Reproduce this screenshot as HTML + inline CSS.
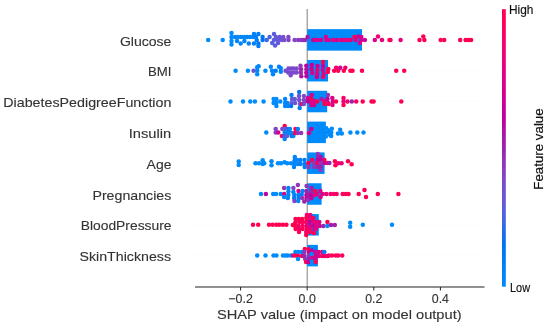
<!DOCTYPE html><html><head><meta charset="utf-8"><style>
html,body{margin:0;padding:0;background:#fff;}
body{width:550px;height:327px;position:relative;overflow:hidden;font-family:"Liberation Sans",sans-serif;color:#333;}
.t{position:absolute;white-space:nowrap;line-height:1;-webkit-text-stroke:0.12px #333;}
.lab{font-size:13.2px;text-align:right;right:378.6px;}
.tick{font-size:12.4px;width:40px;text-align:center;}
</style></head><body>
<div id="wrap" style="position:absolute;left:0;top:0;width:550px;height:327px;filter:blur(0.3px)">
<svg width="550" height="327" viewBox="0 0 550 327" style="position:absolute;left:0;top:0"><defs><linearGradient id="cb" x1="0" y1="1" x2="0" y2="0"><stop offset="0.00" stop-color="#008bfb"/><stop offset="0.05" stop-color="#0084f9"/><stop offset="0.10" stop-color="#007cf5"/><stop offset="0.15" stop-color="#0074f0"/><stop offset="0.20" stop-color="#236cea"/><stop offset="0.25" stop-color="#4b63e3"/><stop offset="0.30" stop-color="#6359da"/><stop offset="0.35" stop-color="#754fd1"/><stop offset="0.40" stop-color="#8443c6"/><stop offset="0.45" stop-color="#9135ba"/><stop offset="0.50" stop-color="#9b23ad"/><stop offset="0.55" stop-color="#ab15a7"/><stop offset="0.60" stop-color="#bb00a0"/><stop offset="0.65" stop-color="#c80098"/><stop offset="0.70" stop-color="#d5008f"/><stop offset="0.75" stop-color="#e00086"/><stop offset="0.80" stop-color="#e9007c"/><stop offset="0.85" stop-color="#f20072"/><stop offset="0.90" stop-color="#f90067"/><stop offset="0.95" stop-color="#fe005c"/><stop offset="1.00" stop-color="#ff0051"/></linearGradient></defs><line x1="195.0" y1="39.90" x2="484.5" y2="39.90" stroke="#e4e4e4" stroke-width="0.5" stroke-dasharray="0.8 3.2"/><line x1="195.0" y1="70.72" x2="484.5" y2="70.72" stroke="#e4e4e4" stroke-width="0.5" stroke-dasharray="0.8 3.2"/><line x1="195.0" y1="101.54" x2="484.5" y2="101.54" stroke="#e4e4e4" stroke-width="0.5" stroke-dasharray="0.8 3.2"/><line x1="195.0" y1="132.36" x2="484.5" y2="132.36" stroke="#e4e4e4" stroke-width="0.5" stroke-dasharray="0.8 3.2"/><line x1="195.0" y1="163.18" x2="484.5" y2="163.18" stroke="#e4e4e4" stroke-width="0.5" stroke-dasharray="0.8 3.2"/><line x1="195.0" y1="194.00" x2="484.5" y2="194.00" stroke="#e4e4e4" stroke-width="0.5" stroke-dasharray="0.8 3.2"/><line x1="195.0" y1="224.82" x2="484.5" y2="224.82" stroke="#e4e4e4" stroke-width="0.5" stroke-dasharray="0.8 3.2"/><line x1="195.0" y1="255.64" x2="484.5" y2="255.64" stroke="#e4e4e4" stroke-width="0.5" stroke-dasharray="0.8 3.2"/><line x1="307.2" y1="9" x2="307.2" y2="287.0" stroke="#8c8c8c" stroke-width="1.1"/><rect x="307.2" y="29.15" width="54.80" height="21.5" fill="#008bfb"/><rect x="307.2" y="59.97" width="20.80" height="21.5" fill="#008bfb"/><rect x="307.2" y="90.79" width="20.00" height="21.5" fill="#008bfb"/><rect x="307.2" y="121.61" width="18.70" height="21.5" fill="#008bfb"/><rect x="307.2" y="152.43" width="17.40" height="21.5" fill="#008bfb"/><rect x="307.2" y="183.25" width="14.40" height="21.5" fill="#008bfb"/><rect x="307.2" y="214.07" width="11.60" height="21.5" fill="#008bfb"/><rect x="307.2" y="244.89" width="10.70" height="21.5" fill="#008bfb"/><circle cx="208.2" cy="40.0" r="2.25" fill="#008bfb"/><circle cx="222.7" cy="40.0" r="2.25" fill="#008bfb"/><circle cx="231.5" cy="33.0" r="2.25" fill="#008bfb"/><circle cx="231.5" cy="37.0" r="2.25" fill="#008bfb"/><circle cx="231.5" cy="41.0" r="2.25" fill="#008bfb"/><circle cx="231.5" cy="44.5" r="2.25" fill="#008bfb"/><circle cx="235.0" cy="37.0" r="2.25" fill="#0086fa"/><circle cx="238.0" cy="37.0" r="2.25" fill="#0086fa"/><circle cx="241.0" cy="37.0" r="2.25" fill="#0086fa"/><circle cx="244.0" cy="37.0" r="2.25" fill="#0086fa"/><circle cx="247.0" cy="37.0" r="2.25" fill="#0086fa"/><circle cx="250.0" cy="37.0" r="2.25" fill="#0086fa"/><circle cx="253.0" cy="37.0" r="2.25" fill="#0086fa"/><circle cx="256.0" cy="37.0" r="2.25" fill="#0086fa"/><circle cx="237.0" cy="41.0" r="2.25" fill="#0086fa"/><circle cx="244.4" cy="41.0" r="2.25" fill="#0084f9"/><circle cx="240.7" cy="43.5" r="2.25" fill="#0086fa"/><circle cx="248.8" cy="43.5" r="2.25" fill="#0084f9"/><circle cx="254.0" cy="34.0" r="2.25" fill="#007ff7"/><circle cx="254.0" cy="43.5" r="2.25" fill="#007ff7"/><circle cx="258.4" cy="34.0" r="2.25" fill="#007cf5"/><circle cx="258.4" cy="43.5" r="2.25" fill="#007cf5"/><circle cx="258.4" cy="46.0" r="2.25" fill="#007cf5"/><circle cx="256.7" cy="40.0" r="2.25" fill="#007cf5"/><circle cx="262.6" cy="37.0" r="2.25" fill="#0074f0"/><circle cx="262.6" cy="40.0" r="2.25" fill="#0074f0"/><circle cx="266.7" cy="40.0" r="2.25" fill="#3769e8"/><circle cx="269.6" cy="37.0" r="2.25" fill="#4b63e3"/><circle cx="272.2" cy="43.0" r="2.25" fill="#5a5dde"/><circle cx="274.0" cy="34.0" r="2.25" fill="#5a5dde"/><circle cx="274.0" cy="40.0" r="2.25" fill="#5a5dde"/><circle cx="275.1" cy="45.5" r="2.25" fill="#5a5dde"/><circle cx="275.9" cy="37.0" r="2.25" fill="#6359da"/><circle cx="278.0" cy="40.0" r="2.25" fill="#6359da"/><circle cx="278.0" cy="43.0" r="2.25" fill="#6359da"/><circle cx="279.5" cy="37.0" r="2.25" fill="#6a55d7"/><circle cx="281.7" cy="40.0" r="2.25" fill="#6e53d5"/><circle cx="283.2" cy="37.0" r="2.25" fill="#7251d3"/><circle cx="284.3" cy="40.0" r="2.25" fill="#754fd1"/><circle cx="288.4" cy="37.0" r="2.25" fill="#8443c6"/><circle cx="288.5" cy="40.0" r="2.25" fill="#8443c6"/><circle cx="294.6" cy="40.0" r="2.25" fill="#8443c6"/><circle cx="298.2" cy="40.0" r="2.25" fill="#893dc1"/><circle cx="301.1" cy="40.0" r="2.25" fill="#8e38bc"/><circle cx="303.7" cy="40.0" r="2.25" fill="#9332b7"/><circle cx="305.2" cy="40.0" r="2.25" fill="#972bb2"/><circle cx="307.6" cy="37.0" r="2.25" fill="#ab15a7"/><circle cx="313.2" cy="40.0" r="2.25" fill="#cb0096"/><circle cx="315.6" cy="40.0" r="2.25" fill="#d00093"/><circle cx="317.4" cy="40.0" r="2.25" fill="#d5008f"/><circle cx="320.9" cy="40.0" r="2.25" fill="#d5008f"/><circle cx="325.8" cy="37.0" r="2.25" fill="#d9008b"/><circle cx="326.5" cy="40.0" r="2.25" fill="#d9008b"/><circle cx="328.9" cy="40.0" r="2.25" fill="#d9008b"/><circle cx="333.5" cy="40.0" r="2.25" fill="#de0088"/><circle cx="336.7" cy="40.0" r="2.25" fill="#de0088"/><circle cx="340.9" cy="40.0" r="2.25" fill="#e20084"/><circle cx="343.1" cy="40.0" r="2.25" fill="#e20084"/><circle cx="345.6" cy="40.0" r="2.25" fill="#e20084"/><circle cx="348.2" cy="40.0" r="2.25" fill="#e60080"/><circle cx="350.7" cy="40.0" r="2.25" fill="#e60080"/><circle cx="354.4" cy="37.0" r="2.25" fill="#fe005c"/><circle cx="355.8" cy="40.0" r="2.25" fill="#d9008b"/><circle cx="358.4" cy="36.5" r="2.25" fill="#d5008f"/><circle cx="359.8" cy="43.0" r="2.25" fill="#e00086"/><circle cx="361.3" cy="37.0" r="2.25" fill="#d5008f"/><circle cx="361.3" cy="40.0" r="2.25" fill="#d5008f"/><circle cx="364.9" cy="40.0" r="2.25" fill="#d00093"/><circle cx="374.8" cy="40.0" r="2.25" fill="#e00086"/><circle cx="378.0" cy="36.5" r="2.25" fill="#f20072"/><circle cx="382.0" cy="40.0" r="2.25" fill="#e9007c"/><circle cx="389.5" cy="40.0" r="2.25" fill="#fe005c"/><circle cx="390.5" cy="40.0" r="2.25" fill="#fe005c"/><circle cx="400.6" cy="40.0" r="2.25" fill="#e60080"/><circle cx="419.5" cy="40.0" r="2.25" fill="#fe005c"/><circle cx="423.3" cy="36.5" r="2.25" fill="#fe005c"/><circle cx="424.4" cy="40.0" r="2.25" fill="#ff0051"/><circle cx="440.7" cy="40.0" r="2.25" fill="#fe005c"/><circle cx="444.2" cy="40.0" r="2.25" fill="#ff0051"/><circle cx="460.2" cy="40.0" r="2.25" fill="#ff0051"/><circle cx="465.6" cy="40.0" r="2.25" fill="#ff0051"/><circle cx="468.4" cy="40.0" r="2.25" fill="#ff0051"/><circle cx="471.1" cy="40.0" r="2.25" fill="#ff0051"/><circle cx="235.6" cy="70.7" r="2.25" fill="#008bfb"/><circle cx="247.9" cy="70.7" r="2.25" fill="#008bfb"/><circle cx="253.6" cy="70.7" r="2.25" fill="#754fd1"/><circle cx="257.2" cy="67.2" r="2.25" fill="#008bfb"/><circle cx="257.2" cy="70.7" r="2.25" fill="#008bfb"/><circle cx="257.2" cy="74.2" r="2.25" fill="#008bfb"/><circle cx="258.6" cy="66.2" r="2.25" fill="#0084f9"/><circle cx="265.4" cy="70.7" r="2.25" fill="#008bfb"/><circle cx="270.8" cy="66.7" r="2.25" fill="#008bfb"/><circle cx="272.0" cy="70.7" r="2.25" fill="#0084f9"/><circle cx="273.0" cy="74.2" r="2.25" fill="#0084f9"/><circle cx="275.7" cy="70.7" r="2.25" fill="#007cf5"/><circle cx="279.0" cy="66.7" r="2.25" fill="#0084f9"/><circle cx="280.8" cy="68.2" r="2.25" fill="#0084f9"/><circle cx="280.8" cy="71.7" r="2.25" fill="#0084f9"/><circle cx="285.6" cy="70.7" r="2.25" fill="#754fd1"/><circle cx="288.5" cy="68.5" r="2.25" fill="#7b4acc"/><circle cx="288.2" cy="72.5" r="2.25" fill="#7b4acc"/><circle cx="291.1" cy="68.5" r="2.25" fill="#7b4acc"/><circle cx="290.7" cy="72.5" r="2.25" fill="#7b4acc"/><circle cx="293.5" cy="68.5" r="2.25" fill="#7b4acc"/><circle cx="294.0" cy="72.5" r="2.25" fill="#7b4acc"/><circle cx="296.6" cy="68.5" r="2.25" fill="#7b4acc"/><circle cx="296.7" cy="72.5" r="2.25" fill="#7b4acc"/><circle cx="290.7" cy="75.2" r="2.25" fill="#7e48ca"/><circle cx="300.5" cy="65.7" r="2.25" fill="#9135ba"/><circle cx="301.0" cy="69.2" r="2.25" fill="#9b23ad"/><circle cx="300.9" cy="72.7" r="2.25" fill="#972bb2"/><circle cx="301.3" cy="76.2" r="2.25" fill="#ab15a7"/><circle cx="306.3" cy="65.7" r="2.25" fill="#bb00a0"/><circle cx="306.4" cy="69.2" r="2.25" fill="#ab15a7"/><circle cx="306.3" cy="72.7" r="2.25" fill="#c0009c"/><circle cx="306.5" cy="76.2" r="2.25" fill="#b508a2"/><circle cx="311.8" cy="65.0" r="2.25" fill="#c0009c"/><circle cx="311.6" cy="69.0" r="2.25" fill="#d00093"/><circle cx="312.3" cy="73.0" r="2.25" fill="#d9008b"/><circle cx="317.5" cy="66.0" r="2.25" fill="#d5008f"/><circle cx="317.3" cy="70.0" r="2.25" fill="#f20072"/><circle cx="317.2" cy="74.0" r="2.25" fill="#e00086"/><circle cx="316.8" cy="77.0" r="2.25" fill="#d00093"/><circle cx="323.0" cy="62.0" r="2.25" fill="#ff0051"/><circle cx="323.1" cy="66.0" r="2.25" fill="#c80098"/><circle cx="322.9" cy="70.0" r="2.25" fill="#d9008b"/><circle cx="323.6" cy="74.0" r="2.25" fill="#e9007c"/><circle cx="323.2" cy="77.0" r="2.25" fill="#fb0063"/><circle cx="328.3" cy="69.0" r="2.25" fill="#ff0051"/><circle cx="327.9" cy="72.0" r="2.25" fill="#ff0051"/><circle cx="334.1" cy="70.7" r="2.25" fill="#fe005c"/><circle cx="336.1" cy="67.7" r="2.25" fill="#f90067"/><circle cx="338.2" cy="70.7" r="2.25" fill="#ff0051"/><circle cx="340.2" cy="67.7" r="2.25" fill="#d5008f"/><circle cx="343.8" cy="70.7" r="2.25" fill="#ff0051"/><circle cx="345.3" cy="67.7" r="2.25" fill="#f20072"/><circle cx="350.4" cy="70.7" r="2.25" fill="#ff0051"/><circle cx="352.5" cy="70.7" r="2.25" fill="#ff0051"/><circle cx="362.0" cy="70.7" r="2.25" fill="#ff0051"/><circle cx="396.2" cy="70.7" r="2.25" fill="#ff0051"/><circle cx="404.2" cy="70.7" r="2.25" fill="#ff0051"/><circle cx="230.5" cy="101.5" r="2.25" fill="#008bfb"/><circle cx="243.0" cy="101.5" r="2.25" fill="#008bfb"/><circle cx="250.3" cy="101.5" r="2.25" fill="#008bfb"/><circle cx="254.9" cy="101.5" r="2.25" fill="#008bfb"/><circle cx="263.6" cy="101.5" r="2.25" fill="#008bfb"/><circle cx="273.6" cy="99.0" r="2.25" fill="#008bfb"/><circle cx="273.6" cy="103.0" r="2.25" fill="#008bfb"/><circle cx="276.4" cy="99.0" r="2.25" fill="#008bfb"/><circle cx="276.4" cy="103.0" r="2.25" fill="#008bfb"/><circle cx="276.4" cy="106.0" r="2.25" fill="#008bfb"/><circle cx="280.3" cy="101.5" r="2.25" fill="#008bfb"/><circle cx="285.1" cy="99.0" r="2.25" fill="#0086fa"/><circle cx="285.1" cy="103.0" r="2.25" fill="#0086fa"/><circle cx="285.1" cy="106.0" r="2.25" fill="#0086fa"/><circle cx="287.2" cy="103.0" r="2.25" fill="#0084f9"/><circle cx="287.9" cy="106.0" r="2.25" fill="#0084f9"/><circle cx="291.5" cy="95.0" r="2.25" fill="#007cf5"/><circle cx="292.0" cy="99.0" r="2.25" fill="#6359da"/><circle cx="291.4" cy="103.0" r="2.25" fill="#6359da"/><circle cx="291.1" cy="106.0" r="2.25" fill="#0074f0"/><circle cx="294.8" cy="99.0" r="2.25" fill="#6359da"/><circle cx="295.0" cy="103.0" r="2.25" fill="#6a55d7"/><circle cx="299.2" cy="92.0" r="2.25" fill="#0074f0"/><circle cx="299.0" cy="96.0" r="2.25" fill="#6e53d5"/><circle cx="299.2" cy="100.0" r="2.25" fill="#754fd1"/><circle cx="299.9" cy="104.0" r="2.25" fill="#6359da"/><circle cx="299.7" cy="108.0" r="2.25" fill="#007cf5"/><circle cx="302.1" cy="104.0" r="2.25" fill="#ff0051"/><circle cx="303.9" cy="96.0" r="2.25" fill="#7e48ca"/><circle cx="303.8" cy="100.0" r="2.25" fill="#8443c6"/><circle cx="303.8" cy="104.0" r="2.25" fill="#784ccf"/><circle cx="305.7" cy="101.0" r="2.25" fill="#8443c6"/><circle cx="307.9" cy="98.0" r="2.25" fill="#d5008f"/><circle cx="308.3" cy="101.5" r="2.25" fill="#bb00a0"/><circle cx="311.7" cy="95.0" r="2.25" fill="#d5008f"/><circle cx="311.5" cy="99.0" r="2.25" fill="#ff0051"/><circle cx="312.0" cy="103.0" r="2.25" fill="#e00086"/><circle cx="311.4" cy="105.0" r="2.25" fill="#d5008f"/><circle cx="314.6" cy="101.0" r="2.25" fill="#d5008f"/><circle cx="314.1" cy="105.0" r="2.25" fill="#d5008f"/><circle cx="317.2" cy="101.5" r="2.25" fill="#ff0051"/><circle cx="321.4" cy="99.0" r="2.25" fill="#9b23ad"/><circle cx="323.9" cy="101.0" r="2.25" fill="#f20072"/><circle cx="324.6" cy="104.0" r="2.25" fill="#ff0051"/><circle cx="328.0" cy="95.0" r="2.25" fill="#9135ba"/><circle cx="327.5" cy="99.0" r="2.25" fill="#bb00a0"/><circle cx="328.1" cy="103.0" r="2.25" fill="#e9007c"/><circle cx="328.6" cy="104.0" r="2.25" fill="#ff0051"/><circle cx="332.3" cy="98.0" r="2.25" fill="#e00086"/><circle cx="332.8" cy="101.5" r="2.25" fill="#e00086"/><circle cx="332.5" cy="105.0" r="2.25" fill="#e00086"/><circle cx="336.0" cy="101.5" r="2.25" fill="#ff0051"/><circle cx="343.5" cy="98.0" r="2.25" fill="#f90067"/><circle cx="343.5" cy="101.5" r="2.25" fill="#e9007c"/><circle cx="343.5" cy="105.0" r="2.25" fill="#fe005c"/><circle cx="347.5" cy="101.5" r="2.25" fill="#f90067"/><circle cx="351.8" cy="101.5" r="2.25" fill="#9b23ad"/><circle cx="356.2" cy="101.5" r="2.25" fill="#fe005c"/><circle cx="362.7" cy="101.5" r="2.25" fill="#ff0051"/><circle cx="371.5" cy="101.5" r="2.25" fill="#ff0051"/><circle cx="373.6" cy="101.5" r="2.25" fill="#ff0051"/><circle cx="401.3" cy="101.5" r="2.25" fill="#ff0051"/><circle cx="266.3" cy="132.4" r="2.25" fill="#008bfb"/><circle cx="275.7" cy="129.0" r="2.25" fill="#8443c6"/><circle cx="275.7" cy="132.5" r="2.25" fill="#8443c6"/><circle cx="278.2" cy="132.5" r="2.25" fill="#d5008f"/><circle cx="281.9" cy="136.0" r="2.25" fill="#f20072"/><circle cx="282.3" cy="129.0" r="2.25" fill="#8443c6"/><circle cx="284.7" cy="126.0" r="2.25" fill="#ff0051"/><circle cx="284.7" cy="129.0" r="2.25" fill="#6359da"/><circle cx="284.7" cy="132.5" r="2.25" fill="#0084f9"/><circle cx="284.7" cy="136.0" r="2.25" fill="#236cea"/><circle cx="284.7" cy="139.0" r="2.25" fill="#0084f9"/><circle cx="287.7" cy="129.0" r="2.25" fill="#236cea"/><circle cx="286.9" cy="133.0" r="2.25" fill="#0084f9"/><circle cx="287.0" cy="136.0" r="2.25" fill="#6359da"/><circle cx="289.9" cy="129.0" r="2.25" fill="#0084f9"/><circle cx="289.4" cy="133.0" r="2.25" fill="#0084f9"/><circle cx="291.9" cy="133.0" r="2.25" fill="#0084f9"/><circle cx="291.7" cy="136.0" r="2.25" fill="#0074f0"/><circle cx="293.3" cy="136.0" r="2.25" fill="#0084f9"/><circle cx="295.5" cy="129.0" r="2.25" fill="#ff0051"/><circle cx="295.1" cy="133.0" r="2.25" fill="#ff0051"/><circle cx="297.9" cy="129.0" r="2.25" fill="#0084f9"/><circle cx="297.7" cy="133.0" r="2.25" fill="#9135ba"/><circle cx="301.1" cy="133.0" r="2.25" fill="#9135ba"/><circle cx="309.0" cy="133.0" r="2.25" fill="#d5008f"/><circle cx="311.3" cy="129.0" r="2.25" fill="#c80098"/><circle cx="326.3" cy="128.3" r="2.25" fill="#008bfb"/><circle cx="326.6" cy="132.4" r="2.25" fill="#008bfb"/><circle cx="325.9" cy="136.4" r="2.25" fill="#008bfb"/><circle cx="328.9" cy="130.4" r="2.25" fill="#008bfb"/><circle cx="329.6" cy="134.4" r="2.25" fill="#008bfb"/><circle cx="331.8" cy="128.8" r="2.25" fill="#008bfb"/><circle cx="331.2" cy="132.4" r="2.25" fill="#008bfb"/><circle cx="331.2" cy="136.0" r="2.25" fill="#008bfb"/><circle cx="338.0" cy="133.5" r="2.25" fill="#008bfb"/><circle cx="340.2" cy="129.8" r="2.25" fill="#008bfb"/><circle cx="341.8" cy="133.5" r="2.25" fill="#008bfb"/><circle cx="350.4" cy="132.4" r="2.25" fill="#008bfb"/><circle cx="357.3" cy="132.4" r="2.25" fill="#008bfb"/><circle cx="363.5" cy="132.4" r="2.25" fill="#008bfb"/><circle cx="238.7" cy="161.4" r="2.25" fill="#008bfb"/><circle cx="238.7" cy="165.0" r="2.25" fill="#008bfb"/><circle cx="255.5" cy="163.2" r="2.25" fill="#008bfb"/><circle cx="259.0" cy="163.2" r="2.25" fill="#008bfb"/><circle cx="262.7" cy="160.2" r="2.25" fill="#008bfb"/><circle cx="262.7" cy="164.0" r="2.25" fill="#008bfb"/><circle cx="264.2" cy="163.2" r="2.25" fill="#008bfb"/><circle cx="271.5" cy="161.2" r="2.25" fill="#008bfb"/><circle cx="271.5" cy="165.2" r="2.25" fill="#008bfb"/><circle cx="278.0" cy="163.2" r="2.25" fill="#008bfb"/><circle cx="281.0" cy="163.2" r="2.25" fill="#008bfb"/><circle cx="284.5" cy="162.2" r="2.25" fill="#008bfb"/><circle cx="287.2" cy="163.2" r="2.25" fill="#008bfb"/><circle cx="291.0" cy="163.2" r="2.25" fill="#008bfb"/><circle cx="294.8" cy="157.0" r="2.25" fill="#0084f9"/><circle cx="294.5" cy="160.5" r="2.25" fill="#0084f9"/><circle cx="294.3" cy="164.0" r="2.25" fill="#0084f9"/><circle cx="294.0" cy="167.0" r="2.25" fill="#0084f9"/><circle cx="296.8" cy="160.0" r="2.25" fill="#0084f9"/><circle cx="297.8" cy="164.0" r="2.25" fill="#0084f9"/><circle cx="300.2" cy="160.0" r="2.25" fill="#007ff7"/><circle cx="300.7" cy="164.0" r="2.25" fill="#007ff7"/><circle cx="304.4" cy="160.0" r="2.25" fill="#007cf5"/><circle cx="304.9" cy="164.0" r="2.25" fill="#007cf5"/><circle cx="304.7" cy="167.0" r="2.25" fill="#007cf5"/><circle cx="308.5" cy="163.0" r="2.25" fill="#ff0051"/><circle cx="308.4" cy="167.0" r="2.25" fill="#9135ba"/><circle cx="312.2" cy="160.0" r="2.25" fill="#ff0051"/><circle cx="314.1" cy="163.0" r="2.25" fill="#9135ba"/><circle cx="314.2" cy="167.0" r="2.25" fill="#9135ba"/><circle cx="317.8" cy="154.0" r="2.25" fill="#9135ba"/><circle cx="318.1" cy="157.0" r="2.25" fill="#9b23ad"/><circle cx="317.8" cy="160.0" r="2.25" fill="#bb00a0"/><circle cx="317.5" cy="163.0" r="2.25" fill="#fe005c"/><circle cx="318.1" cy="167.0" r="2.25" fill="#9b23ad"/><circle cx="320.7" cy="157.0" r="2.25" fill="#ab15a7"/><circle cx="320.5" cy="160.0" r="2.25" fill="#bb00a0"/><circle cx="320.8" cy="163.0" r="2.25" fill="#9135ba"/><circle cx="320.9" cy="167.0" r="2.25" fill="#9b23ad"/><circle cx="320.6" cy="170.0" r="2.25" fill="#9135ba"/><circle cx="324.4" cy="160.0" r="2.25" fill="#ff0051"/><circle cx="324.6" cy="163.0" r="2.25" fill="#d5008f"/><circle cx="327.7" cy="163.0" r="2.25" fill="#e9007c"/><circle cx="329.4" cy="163.0" r="2.25" fill="#9b23ad"/><circle cx="334.9" cy="161.2" r="2.25" fill="#ff0051"/><circle cx="335.4" cy="165.2" r="2.25" fill="#ff0051"/><circle cx="338.3" cy="163.2" r="2.25" fill="#f90067"/><circle cx="341.5" cy="163.2" r="2.25" fill="#e9007c"/><circle cx="348.0" cy="161.2" r="2.25" fill="#ff0051"/><circle cx="351.6" cy="164.2" r="2.25" fill="#ff0051"/><circle cx="261.0" cy="194.0" r="2.25" fill="#008bfb"/><circle cx="265.9" cy="194.0" r="2.25" fill="#bb00a0"/><circle cx="273.2" cy="194.0" r="2.25" fill="#008bfb"/><circle cx="276.0" cy="194.0" r="2.25" fill="#008bfb"/><circle cx="280.7" cy="194.0" r="2.25" fill="#008bfb"/><circle cx="284.1" cy="188.0" r="2.25" fill="#9135ba"/><circle cx="284.1" cy="194.0" r="2.25" fill="#d5008f"/><circle cx="284.1" cy="197.0" r="2.25" fill="#0084f9"/><circle cx="288.4" cy="188.0" r="2.25" fill="#0084f9"/><circle cx="288.4" cy="191.5" r="2.25" fill="#0084f9"/><circle cx="288.3" cy="195.0" r="2.25" fill="#0084f9"/><circle cx="287.8" cy="198.0" r="2.25" fill="#0084f9"/><circle cx="293.4" cy="188.0" r="2.25" fill="#8443c6"/><circle cx="293.4" cy="192.0" r="2.25" fill="#0084f9"/><circle cx="294.3" cy="195.0" r="2.25" fill="#0084f9"/><circle cx="294.1" cy="198.0" r="2.25" fill="#007cf5"/><circle cx="294.4" cy="201.0" r="2.25" fill="#8443c6"/><circle cx="297.9" cy="185.0" r="2.25" fill="#9135ba"/><circle cx="298.5" cy="191.0" r="2.25" fill="#e00086"/><circle cx="298.4" cy="195.0" r="2.25" fill="#0084f9"/><circle cx="298.6" cy="198.0" r="2.25" fill="#007cf5"/><circle cx="298.2" cy="201.0" r="2.25" fill="#0084f9"/><circle cx="302.6" cy="191.0" r="2.25" fill="#0084f9"/><circle cx="301.7" cy="194.5" r="2.25" fill="#007cf5"/><circle cx="302.1" cy="198.0" r="2.25" fill="#9135ba"/><circle cx="304.3" cy="201.5" r="2.25" fill="#9b23ad"/><circle cx="306.6" cy="186.0" r="2.25" fill="#9135ba"/><circle cx="306.4" cy="191.0" r="2.25" fill="#9b23ad"/><circle cx="306.4" cy="195.0" r="2.25" fill="#bb00a0"/><circle cx="306.5" cy="198.0" r="2.25" fill="#d5008f"/><circle cx="308.2" cy="194.0" r="2.25" fill="#9b23ad"/><circle cx="307.7" cy="198.0" r="2.25" fill="#ab15a7"/><circle cx="308.0" cy="200.0" r="2.25" fill="#9135ba"/><circle cx="311.5" cy="188.0" r="2.25" fill="#ab15a7"/><circle cx="311.5" cy="191.0" r="2.25" fill="#9b23ad"/><circle cx="311.0" cy="195.0" r="2.25" fill="#bb00a0"/><circle cx="311.4" cy="198.0" r="2.25" fill="#c80098"/><circle cx="315.2" cy="191.0" r="2.25" fill="#ff0051"/><circle cx="314.9" cy="195.0" r="2.25" fill="#e00086"/><circle cx="316.9" cy="194.0" r="2.25" fill="#e9007c"/><circle cx="320.4" cy="191.0" r="2.25" fill="#e00086"/><circle cx="320.6" cy="197.0" r="2.25" fill="#e00086"/><circle cx="322.7" cy="194.0" r="2.25" fill="#e00086"/><circle cx="326.3" cy="194.0" r="2.25" fill="#f20072"/><circle cx="330.5" cy="194.0" r="2.25" fill="#f20072"/><circle cx="333.8" cy="194.0" r="2.25" fill="#f90067"/><circle cx="336.6" cy="194.0" r="2.25" fill="#f90067"/><circle cx="342.7" cy="194.0" r="2.25" fill="#fe005c"/><circle cx="345.6" cy="194.0" r="2.25" fill="#fe005c"/><circle cx="348.5" cy="194.0" r="2.25" fill="#ff0051"/><circle cx="358.7" cy="194.0" r="2.25" fill="#ff0051"/><circle cx="364.5" cy="190.0" r="2.25" fill="#ff0051"/><circle cx="366.0" cy="197.0" r="2.25" fill="#ff0051"/><circle cx="377.8" cy="194.0" r="2.25" fill="#ff0051"/><circle cx="398.4" cy="194.0" r="2.25" fill="#ff0051"/><circle cx="253.0" cy="224.8" r="2.25" fill="#ff0051"/><circle cx="258.2" cy="224.8" r="2.25" fill="#ff0051"/><circle cx="269.0" cy="224.8" r="2.25" fill="#ff0051"/><circle cx="272.7" cy="224.8" r="2.25" fill="#ff0051"/><circle cx="276.4" cy="224.8" r="2.25" fill="#ff0051"/><circle cx="279.3" cy="224.8" r="2.25" fill="#ff0051"/><circle cx="282.9" cy="224.8" r="2.25" fill="#ff0051"/><circle cx="286.4" cy="224.8" r="2.25" fill="#ff0051"/><circle cx="292.8" cy="225.0" r="2.25" fill="#ff0051"/><circle cx="295.5" cy="219.0" r="2.25" fill="#ff0051"/><circle cx="295.4" cy="222.5" r="2.25" fill="#ff0051"/><circle cx="295.2" cy="226.0" r="2.25" fill="#ff0051"/><circle cx="295.6" cy="229.0" r="2.25" fill="#ff0051"/><circle cx="298.6" cy="219.0" r="2.25" fill="#ff0051"/><circle cx="299.3" cy="222.0" r="2.25" fill="#f90067"/><circle cx="298.5" cy="226.0" r="2.25" fill="#ff0051"/><circle cx="299.1" cy="229.0" r="2.25" fill="#e9007c"/><circle cx="299.0" cy="232.0" r="2.25" fill="#fe005c"/><circle cx="302.1" cy="219.0" r="2.25" fill="#ff0051"/><circle cx="302.6" cy="222.0" r="2.25" fill="#ff0051"/><circle cx="302.4" cy="226.0" r="2.25" fill="#f90067"/><circle cx="302.5" cy="229.0" r="2.25" fill="#ff0051"/><circle cx="306.9" cy="215.0" r="2.25" fill="#f90067"/><circle cx="306.3" cy="218.0" r="2.25" fill="#ff0051"/><circle cx="306.0" cy="222.0" r="2.25" fill="#fe005c"/><circle cx="306.3" cy="226.0" r="2.25" fill="#e9007c"/><circle cx="306.7" cy="229.0" r="2.25" fill="#ff0051"/><circle cx="306.2" cy="232.0" r="2.25" fill="#f90067"/><circle cx="306.2" cy="235.0" r="2.25" fill="#ff0051"/><circle cx="310.2" cy="215.0" r="2.25" fill="#e9007c"/><circle cx="310.0" cy="219.0" r="2.25" fill="#f90067"/><circle cx="309.7" cy="222.0" r="2.25" fill="#bb00a0"/><circle cx="310.2" cy="226.0" r="2.25" fill="#d5008f"/><circle cx="309.6" cy="229.0" r="2.25" fill="#f20072"/><circle cx="310.0" cy="232.0" r="2.25" fill="#fe005c"/><circle cx="313.2" cy="218.0" r="2.25" fill="#ff0051"/><circle cx="313.4" cy="222.0" r="2.25" fill="#e9007c"/><circle cx="313.8" cy="226.0" r="2.25" fill="#bb00a0"/><circle cx="313.9" cy="229.0" r="2.25" fill="#9b23ad"/><circle cx="313.9" cy="233.0" r="2.25" fill="#ff0051"/><circle cx="315.9" cy="222.0" r="2.25" fill="#e9007c"/><circle cx="316.1" cy="226.0" r="2.25" fill="#e9007c"/><circle cx="315.8" cy="229.0" r="2.25" fill="#e9007c"/><circle cx="319.3" cy="222.0" r="2.25" fill="#e00086"/><circle cx="319.7" cy="226.0" r="2.25" fill="#d5008f"/><circle cx="323.3" cy="226.0" r="2.25" fill="#9b23ad"/><circle cx="327.4" cy="222.0" r="2.25" fill="#ff0051"/><circle cx="327.3" cy="226.0" r="2.25" fill="#008bfb"/><circle cx="331.0" cy="225.0" r="2.25" fill="#ab15a7"/><circle cx="334.8" cy="225.0" r="2.25" fill="#9b23ad"/><circle cx="350.2" cy="222.8" r="2.25" fill="#008bfb"/><circle cx="350.2" cy="226.8" r="2.25" fill="#008bfb"/><circle cx="362.8" cy="224.8" r="2.25" fill="#008bfb"/><circle cx="392.0" cy="224.8" r="2.25" fill="#008bfb"/><circle cx="257.2" cy="255.6" r="2.25" fill="#008bfb"/><circle cx="265.5" cy="255.6" r="2.25" fill="#008bfb"/><circle cx="273.5" cy="255.6" r="2.25" fill="#008bfb"/><circle cx="276.4" cy="255.6" r="2.25" fill="#008bfb"/><circle cx="283.0" cy="255.6" r="2.25" fill="#008bfb"/><circle cx="285.5" cy="255.6" r="2.25" fill="#008bfb"/><circle cx="287.7" cy="255.6" r="2.25" fill="#008bfb"/><circle cx="291.0" cy="255.6" r="2.25" fill="#008bfb"/><circle cx="293.1" cy="255.6" r="2.25" fill="#d5008f"/><circle cx="295.4" cy="252.0" r="2.25" fill="#008bfb"/><circle cx="295.6" cy="255.6" r="2.25" fill="#ff0051"/><circle cx="298.3" cy="252.0" r="2.25" fill="#008bfb"/><circle cx="298.2" cy="256.0" r="2.25" fill="#ff0051"/><circle cx="298.0" cy="259.0" r="2.25" fill="#008bfb"/><circle cx="301.8" cy="252.0" r="2.25" fill="#0084f9"/><circle cx="302.0" cy="256.0" r="2.25" fill="#f20072"/><circle cx="304.8" cy="249.0" r="2.25" fill="#ff0051"/><circle cx="304.4" cy="252.0" r="2.25" fill="#9135ba"/><circle cx="304.3" cy="256.0" r="2.25" fill="#9b23ad"/><circle cx="305.2" cy="259.0" r="2.25" fill="#9135ba"/><circle cx="306.0" cy="262.0" r="2.25" fill="#ff0051"/><circle cx="309.2" cy="249.0" r="2.25" fill="#ff0051"/><circle cx="309.1" cy="252.0" r="2.25" fill="#d5008f"/><circle cx="308.8" cy="256.0" r="2.25" fill="#9135ba"/><circle cx="309.3" cy="259.0" r="2.25" fill="#9b23ad"/><circle cx="308.5" cy="262.0" r="2.25" fill="#bb00a0"/><circle cx="311.9" cy="247.0" r="2.25" fill="#008bfb"/><circle cx="312.3" cy="250.5" r="2.25" fill="#bb00a0"/><circle cx="311.8" cy="254.0" r="2.25" fill="#008bfb"/><circle cx="312.6" cy="258.0" r="2.25" fill="#d5008f"/><circle cx="312.0" cy="261.5" r="2.25" fill="#008bfb"/><circle cx="315.2" cy="249.0" r="2.25" fill="#0084f9"/><circle cx="315.1" cy="252.0" r="2.25" fill="#d5008f"/><circle cx="315.7" cy="256.0" r="2.25" fill="#e00086"/><circle cx="315.5" cy="259.0" r="2.25" fill="#d5008f"/><circle cx="315.7" cy="262.0" r="2.25" fill="#ff0051"/><circle cx="318.7" cy="252.0" r="2.25" fill="#d5008f"/><circle cx="318.8" cy="256.0" r="2.25" fill="#d5008f"/><circle cx="322.3" cy="252.0" r="2.25" fill="#e00086"/><circle cx="322.0" cy="256.0" r="2.25" fill="#ff0051"/><circle cx="324.4" cy="252.0" r="2.25" fill="#0084f9"/><circle cx="324.7" cy="256.0" r="2.25" fill="#e00086"/><circle cx="327.7" cy="256.0" r="2.25" fill="#ff0051"/><circle cx="329.0" cy="255.6" r="2.25" fill="#f90067"/><circle cx="332.0" cy="255.6" r="2.25" fill="#fe005c"/><circle cx="335.8" cy="255.6" r="2.25" fill="#fe005c"/><circle cx="338.2" cy="255.6" r="2.25" fill="#fe005c"/><circle cx="342.2" cy="255.6" r="2.25" fill="#f90067"/><line x1="195.0" y1="287.0" x2="484.5" y2="287.0" stroke="#222222" stroke-width="1.15"/><line x1="240.60" y1="287.0" x2="240.60" y2="290.5" stroke="#222222" stroke-width="1"/><line x1="307.20" y1="287.0" x2="307.20" y2="290.5" stroke="#222222" stroke-width="1"/><line x1="373.80" y1="287.0" x2="373.80" y2="290.5" stroke="#222222" stroke-width="1"/><line x1="440.40" y1="287.0" x2="440.40" y2="290.5" stroke="#222222" stroke-width="1"/><rect x="502" y="9.2" width="3.8" height="277.5" fill="url(#cb)"/></svg>
<div class="t lab" style="top:34.5px;transform:scaleX(1.064);transform-origin:100% 50%">Glucose</div>
<div class="t lab" style="top:65.3px;transform:scaleX(1.0);transform-origin:100% 50%">BMI</div>
<div class="t lab" style="top:96.1px;transform:scaleX(1.082);transform-origin:100% 50%">DiabetesPedigreeFunction</div>
<div class="t lab" style="top:127.0px;transform:scaleX(1.11);transform-origin:100% 50%">Insulin</div>
<div class="t lab" style="top:157.8px;transform:scaleX(1.06);transform-origin:100% 50%">Age</div>
<div class="t lab" style="top:188.6px;transform:scaleX(1.076);transform-origin:100% 50%">Pregnancies</div>
<div class="t lab" style="top:219.4px;transform:scaleX(1.05);transform-origin:100% 50%">BloodPressure</div>
<div class="t lab" style="top:250.2px;transform:scaleX(1.077);transform-origin:100% 50%">SkinThickness</div>
<div class="t tick" style="left:220.6px;top:292.6px">−0.2</div>
<div class="t tick" style="left:287.2px;top:292.6px">0.0</div>
<div class="t tick" style="left:353.8px;top:292.6px">0.2</div>
<div class="t tick" style="left:420.4px;top:292.6px">0.4</div>
<div class="t" style="font-size:13.5px;left:216.8px;top:308.4px;transform:scaleX(1.084);transform-origin:0 50%">SHAP value (impact on model output)</div>
<div class="t" style="font-size:12px;left:509.4px;top:4.4px;color:#111;-webkit-text-stroke:0.15px #111;transform:scaleX(0.99);transform-origin:0 50%">High</div>
<div class="t" style="font-size:12px;left:510px;top:281.6px;transform:scaleX(0.91);transform-origin:0 50%;color:#111;-webkit-text-stroke:0.15px #111">Low</div>
<div class="t" style="font-size:13.3px;left:539px;top:149px;color:#111;-webkit-text-stroke:0.2px #111;transform:translate(-50%,-50%) rotate(-90deg);transform-origin:50% 50%">Feature value</div>
</div></body></html>
